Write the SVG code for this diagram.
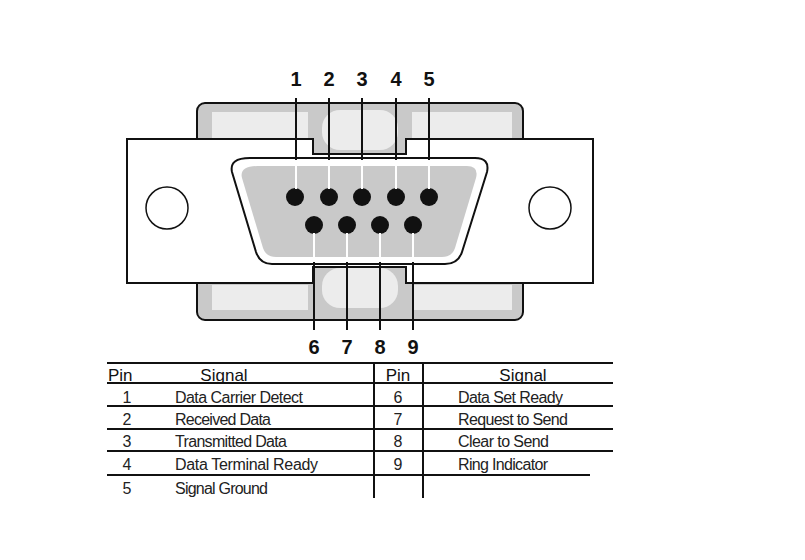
<svg xmlns="http://www.w3.org/2000/svg" width="805" height="560" viewBox="0 0 805 560">
<style>
.o{stroke:#111;stroke-width:2;fill:none}
.sh{fill:#c9c9c9;stroke:#111;stroke-width:2}
.li{fill:#ececec}
.pin{fill:#111}
.ld{stroke:#fff;stroke-width:2}
.n{font-family:"Liberation Sans",Arial,sans-serif;font-weight:bold;font-size:20px;fill:#111;text-anchor:middle}
.t{font-family:"Liberation Sans",Arial,sans-serif;font-size:16px;fill:#222}
.h{font-family:"Liberation Sans",Arial,sans-serif;font-size:17px;fill:#111}
.c{text-anchor:middle}
.tl{stroke:#111;stroke-width:2}
</style>
<rect width="805" height="560" fill="#fff"/>
<g id="connector">
<rect class="sh" x="197" y="103" width="326" height="60" rx="8"/>
<rect class="li" x="212" y="112" width="96" height="28"/>
<rect class="li" x="412" y="112" width="100" height="28"/>
<rect class="li" x="322" y="110" width="76" height="40" rx="18"/>
<rect class="sh" x="197" y="258" width="326" height="62" rx="8"/>
<rect class="li" x="212" y="285" width="96" height="25"/>
<rect class="li" x="412" y="285" width="100" height="25"/>
<rect class="li" x="322" y="268" width="76" height="40" rx="18"/>
<path d="M127 139 H313 V154 H406 V139 H593 V283 H406 V267 H313 V283 H127 Z" fill="#fff" stroke="#111" stroke-width="2"/>
<path d="M250 158 H475 Q490 158 487 172 L462 252 Q458 264 445 264 H272 Q260 264 256 252 L232 172 Q229 158 250 158 Z" fill="#fff" stroke="#111" stroke-width="2"/>
<path d="M258 166 H467 Q479 166 476 178 L455 248 Q452 257 442 257 H276 Q266 257 263 248 L242 178 Q239 166 258 166 Z" fill="#c9c9c9"/>
<circle cx="167" cy="208" r="21" fill="#fff" stroke="#111" stroke-width="1.5"/>
<circle cx="550" cy="208" r="21" fill="#fff" stroke="#111" stroke-width="1.5"/>
</g>
<g id="pins">
<circle class="pin" cx="295" cy="197" r="9"/><circle class="pin" cx="329" cy="197" r="9"/><circle class="pin" cx="362" cy="197" r="9"/><circle class="pin" cx="396" cy="197" r="9"/><circle class="pin" cx="429" cy="197" r="9"/>
<circle class="pin" cx="314" cy="225" r="9"/><circle class="pin" cx="347" cy="225" r="9"/><circle class="pin" cx="380" cy="225" r="9"/><circle class="pin" cx="413" cy="225" r="9"/>
</g>
<g id="leaders">
<path class="o" d="M296 98V187M329 98V187M362 98V187M396 98V187M429 98V187M314 235V330M347 235V330M380 235V330M413 235V330"/>
<path class="ld" d="M296 160V189M329 160V189M362 160V189M396 160V189M429 160V189M314 233V262M347 233V262M380 233V262M413 233V262"/>
</g>
<g id="pin-labels">
<text class="n" x="296" y="86">1</text><text class="n" x="329" y="86">2</text><text class="n" x="362" y="86">3</text><text class="n" x="396" y="86">4</text><text class="n" x="429" y="86">5</text>
<text class="n" x="314" y="354">6</text><text class="n" x="347" y="354">7</text><text class="n" x="380" y="354">8</text><text class="n" x="413" y="354">9</text>
</g>
<g id="table">
<path class="tl" d="M107 363H613M107 383H613M107 406H613M107 429H613M107 451H613M107 475H590M374 363V498M423 363V498"/>
<text class="h" x="108" y="381">Pin</text>
<text class="h c" x="224" y="381">Signal</text>
<text class="h c" x="398" y="381">Pin</text>
<text class="h c" x="523" y="381">Signal</text>
<text class="t c" x="127" y="403">1</text><text class="t c" x="127" y="425">2</text><text class="t c" x="127" y="447">3</text><text class="t c" x="127" y="470">4</text><text class="t c" x="127" y="494">5</text>
<text class="t" x="175" y="403" textLength="128">Data Carrier Detect</text>
<text class="t" x="175" y="425" textLength="96">Received Data</text>
<text class="t" x="175" y="447" textLength="112">Transmitted Data</text>
<text class="t" x="175" y="470" textLength="143">Data  Terminal Ready</text>
<text class="t" x="175" y="494" textLength="93">Signal Ground</text>
<text class="t c" x="398" y="403">6</text><text class="t c" x="398" y="425">7</text><text class="t c" x="398" y="447">8</text><text class="t c" x="398" y="470">9</text>
<text class="t" x="458" y="403" textLength="105">Data Set Ready</text>
<text class="t" x="458" y="425" textLength="110">Request to Send</text>
<text class="t" x="458" y="447" textLength="91">Clear to Send</text>
<text class="t" x="458" y="470" textLength="90">Ring Indicator</text>
</g>
</svg>
